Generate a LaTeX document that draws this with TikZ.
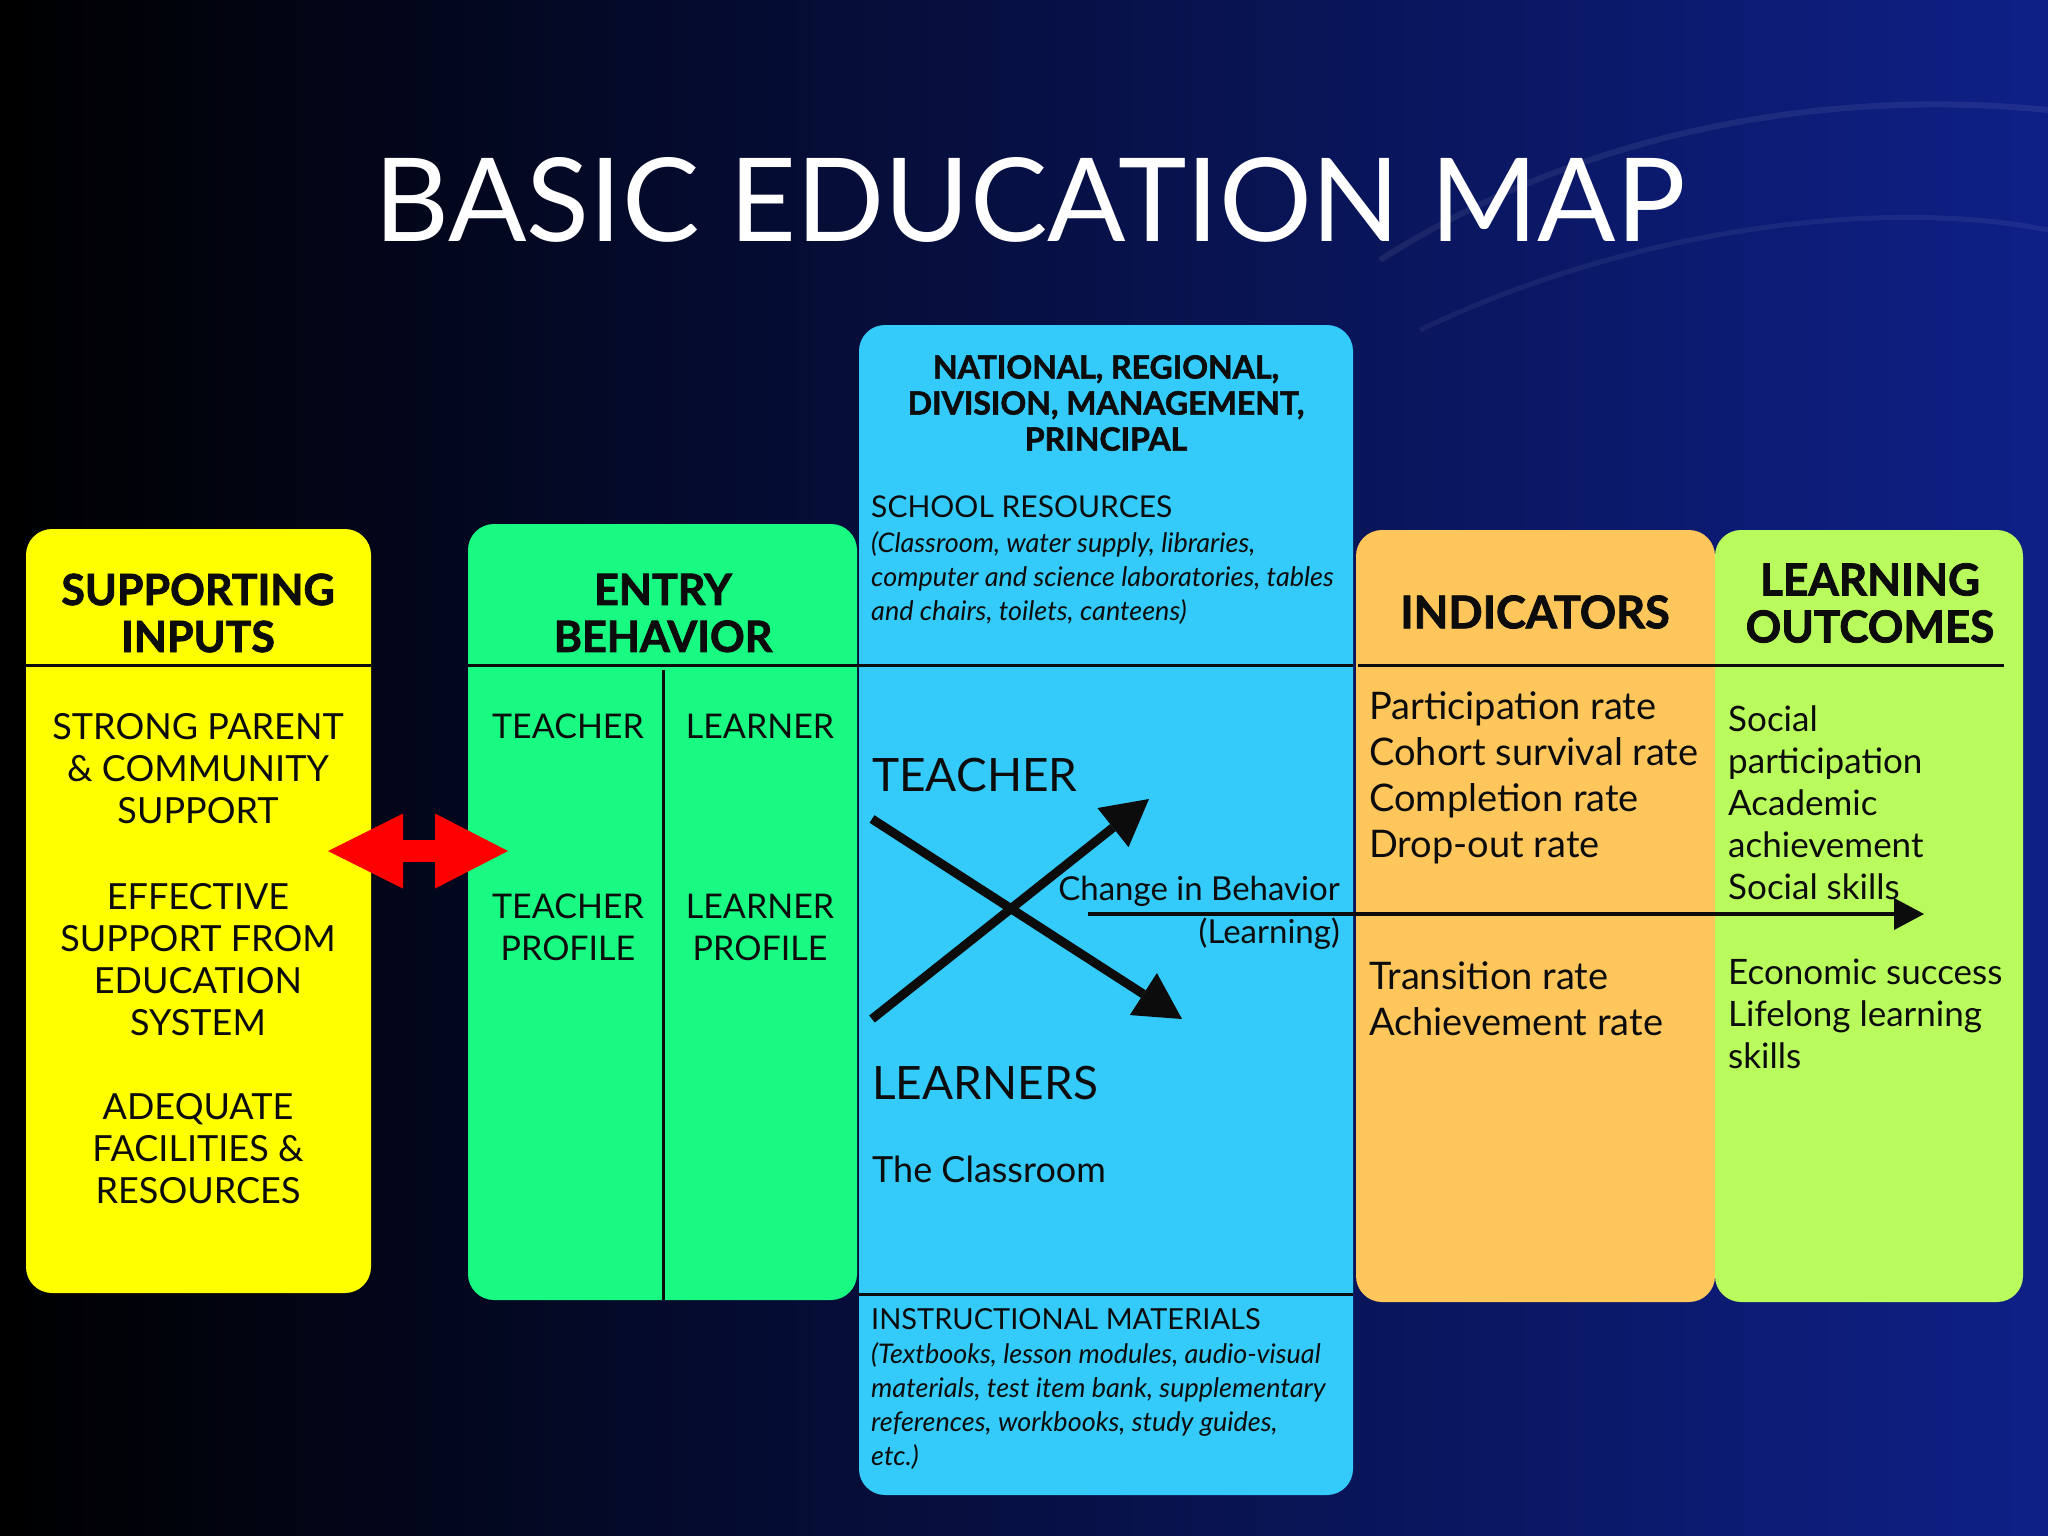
\documentclass[tikz,border=0pt]{standalone}
\usepackage{fontspec}
\setmainfont{Lato}[BoldFeatures={FakeBold=1.8}]
\usetikzlibrary{arrows.meta}
\definecolor{bgnavy}{RGB}{6,6,70}
\definecolor{bgblue}{RGB}{14,32,135}
\definecolor{boxyellow}{RGB}{255,255,0}
\definecolor{boxgreen}{RGB}{24,250,130}
\definecolor{boxblue}{RGB}{52,202,250}
\definecolor{boxorange}{RGB}{255,198,92}
\definecolor{boxlime}{RGB}{185,250,92}
\definecolor{ink}{RGB}{12,12,12}
\newcommand{\setfs}[2]{\fontsize{#1}{#2}\selectfont}

\begin{document}
\begin{tikzpicture}[x=1pt,y=-1pt,
	box/.style={rounded corners=26pt},
	txt/.style={inner sep=0pt, text=ink},
	rule/.style={line width=3pt, ink},
	bigarrow/.style={line width=9pt, ink, -{Triangle[length=46pt,width=50pt,line width=0pt]}}]
	\useasboundingbox (0,0) rectangle (2048,1536);
	\shade[left color=black, middle color=bgnavy, right color=bgblue] (0,0) rectangle (2048,1536);
	\draw[white, opacity=0.07, line width=6pt] (1380,260) .. controls (1600,120) and (1850,90) .. (2048,110);
	\draw[white, opacity=0.06, line width=5pt] (1420,330) .. controls (1650,220) and (1900,200) .. (2048,230);
	\node[inner sep=0pt, text=white, font=\setfs{116}{116}] (title) at (1030,200) {BASIC EDUCATION MAP};

	% boxes
	\fill[boxyellow, box] (26,529) rectangle (371,1293);
	\fill[boxgreen, box] (468,524) rectangle (857,1300);
	\fill[boxblue, box] (859,325) rectangle (1353,1495);
	\fill[boxorange, box] (1356,530) rectangle (1715,1302);
	\fill[boxlime, box] (1715,530) rectangle (2023,1302);
	\draw[rule] (26,665) -- (371,665);
	\draw[rule] (468,665) -- (1353,665);
	\draw[rule] (1358,665) -- (2004,665);
	\draw[rule] (663,670) -- (663,1300);
	\draw[rule] (859,1294) -- (1353,1294);

	% supporting inputs
	\node[txt, align=center, font=\bfseries\setfs{43}{47}] (inputs) at (198,613) {SUPPORTING\\INPUTS};
	\node[txt, align=center, font=\setfs{36}{42}] (parent) at (198,769) {STRONG PARENT\\\& COMMUNITY\\SUPPORT};
	\node[txt, align=center, font=\setfs{36}{42}] (system) at (198,960) {EFFECTIVE\\SUPPORT FROM\\EDUCATION\\SYSTEM};
	\node[txt, align=center, font=\setfs{36}{42}] (facil) at (198,1149) {ADEQUATE\\FACILITIES \&\\RESOURCES};

	% entry behavior
	\node[txt, align=center, font=\bfseries\setfs{43}{47}] (entry) at (663,613) {ENTRY\\BEHAVIOR};
	\node[txt, font=\setfs{34}{42}] (teach) at (568,726) {TEACHER};
	\node[txt, font=\setfs{34}{42}] (learn) at (760,726) {LEARNER};
	\node[txt, align=center, font=\setfs{34}{42}] (tprof) at (568,927) {TEACHER\\PROFILE};
	\node[txt, align=center, font=\setfs{34}{42}] (lprof) at (760,927) {LEARNER\\PROFILE};

	% classroom
	\node[txt, align=center, font=\bfseries\setfs{32}{36}] (mgmt) at (1106,403) {NATIONAL, REGIONAL,\\DIVISION, MANAGEMENT,\\PRINCIPAL};
	\node[txt, anchor=west, font=\setfs{30}{34}] (school) at (871,507) {SCHOOL RESOURCES};
	\node[txt, anchor=west, align=left, font=\itshape\setfs{27}{34}] (schoolx) at (871,578) {(Classroom, water supply, libraries,\\computer and science laboratories, tables\\and chairs, toilets, canteens)};
	\node[txt, anchor=west, font=\setfs{46}{46}] (teacher) at (872,775) {TEACHER};
	\node[txt, anchor=west, font=\setfs{46}{46}] (learners) at (872,1083) {LEARNERS};
	\node[txt, anchor=west, font=\setfs{36}{36}] (room) at (872,1169) {The Classroom};
	\node[txt, anchor=east, align=right, font=\setfs{33}{43}] (change) at (1340,913) {Change in Behavior\\(Learning)};
	\node[txt, anchor=west, font=\setfs{29}{34}] (instr) at (871,1319) {INSTRUCTIONAL MATERIALS};
	\node[txt, anchor=west, align=left, font=\itshape\setfs{27}{34}] (instrx) at (871,1406) {(Textbooks, lesson modules, audio-visual\\materials, test item bank, supplementary\\references, workbooks, study guides,\\etc.)};

	% indicators and outcomes
	\node[txt, font=\bfseries\setfs{45}{45}] (ind) at (1535,612) {INDICATORS};
	\node[txt, anchor=west, align=left, font=\setfs{38}{46}] (rates) at (1369,778) {Participation rate\\Cohort survival rate\\Completion rate\\Drop-out rate};
	\node[txt, anchor=west, align=left, font=\setfs{38}{46}] (rates2) at (1369,999) {Transition rate\\Achievement rate};
	\node[txt, align=center, font=\bfseries\setfs{44}{47}] (outc) at (1870,603) {LEARNING\\OUTCOMES};
	\node[txt, anchor=west, align=left, font=\setfs{35}{42}] (social) at (1728,803) {Social\\participation\\Academic\\achievement\\Social skills};
	\node[txt, anchor=west, align=left, font=\setfs{35}{42}] (econ) at (1728,1014) {Economic success\\Lifelong learning\\skills};

	% arrows
	\coordinate (inl) at (328,851);
	\coordinate (inr) at (508,851);
	\draw[red, line width=22pt, {Triangle[length=75pt,width=75pt,line width=0pt]}-{Triangle[length=73pt,width=75pt,line width=0pt]}] (inl) -- (inr);
	\coordinate (xtl) at (872,819);
	\coordinate (xbr) at (1182,1019);
	\coordinate (xbl) at (872,1019);
	\coordinate (xtr) at (1149,799);
	\draw[bigarrow] (xtl) -- (xbr);
	\draw[bigarrow] (xbl) -- (xtr);
	\coordinate (chg) at (1088,914);
	\draw[line width=4pt, ink, -{Triangle[length=30pt,width=32pt,line width=0pt]}] (chg) -- (social.west |- chg) -- ++(196,0);
	%\draw[rule] (680,500) -- (842,500);
\end{tikzpicture}
\end{document}
